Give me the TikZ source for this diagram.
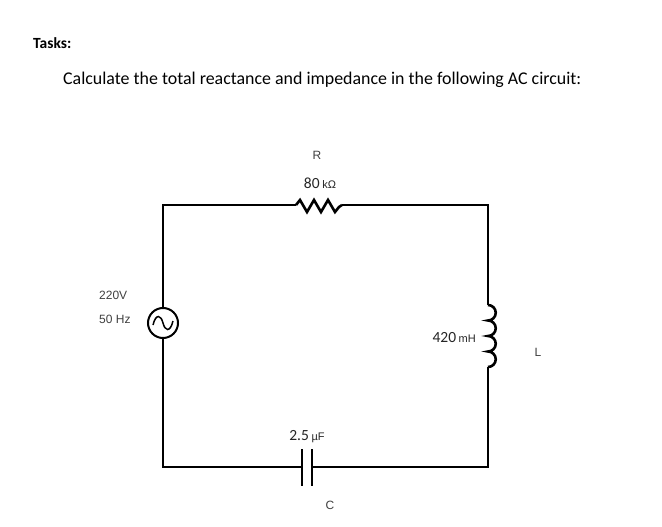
\documentclass[tikz,border=0pt]{standalone}
\usepackage{fontspec}
\setmainfont{Carlito}
\newfontfamily\lab{Liberation Sans}
\begin{document}
\begin{tikzpicture}[x=1pt,y=-1pt,
  wire/.style={line width=2.6pt,line join=miter},
  lbl/.style={font=\lab\fontsize{12}{14}\selectfont,text=black!75,inner sep=0pt},
  val/.style={font=\fontsize{15.5}{17}\selectfont,text=black!85,inner sep=0pt}]
\useasboundingbox[fill=white] (0,0) rectangle (662,527);
\node[font=\bfseries\fontsize{15.5}{18}\selectfont,anchor=west,inner sep=0pt] (t) at (33,43) {Tasks:};
\node[font=\fontsize{17.9}{21}\selectfont,anchor=west,inner sep=0pt] (q) at (63,80) {Calculate the total reactance and impedance in the following AC circuit:};
\coordinate (tl) at (163,205); \coordinate (tr) at (488,205);
\coordinate (bl) at (163,467); \coordinate (br) at (488,467);
\coordinate (r1) at (296,205); \coordinate (r2) at (342,205);
\coordinate (l1) at (488,305); \coordinate (l2) at (488,367);
\coordinate (c1) at (302,467); \coordinate (c2) at (312,467);
\node[circle,draw,line width=2pt,minimum size=30pt,inner sep=0pt] (src) at (163,323) {};
% wires
\draw[wire] (src.north) -- (tl) -- (r1);
\draw[wire] (r1) -- ++(4,-5) -- ++(7,12) -- ++(7,-12) -- ++(7,12) -- ++(7,-12) -- ++(7,12) -- ++(4,-5) -- (r2);
\draw[wire] (r2) -- (tr) -- (l1);
\draw[wire] (l1) \foreach \i in {1,...,4}{ arc(-90:90:7.75) } ;
\draw[wire] (l2) -- (br) -- (c2);
\draw[wire] (c1) -- (bl) -- (src.south);
\draw[wire] (302,449) -- (302,486);
\draw[wire] (312,449) -- (312,486);
\draw[line width=1.5pt] (153,325) .. controls (156,313) and (161,315) .. (163,323) .. controls (165,331) and (170,333) .. (173,321);
% labels
\node[lbl] (lr) at (317,155) {R};
\node[val] (vr) at (320,183) {80\,{\lab\fontsize{11}{12}\selectfont kΩ}};
\node[lbl,anchor=west] (v) at (99,295) {220V};
\node[lbl,anchor=west] (f) at (99,319) {50 Hz};
\node[val,anchor=east] (vl) at (476,338) {420\,{\lab\fontsize{11}{12}\selectfont mH}};
\node[lbl] (ll) at (538,352) {L};
\node[val] (vc) at (307,437) {2.5\,{\lab\fontsize{11}{12}\selectfont µF}};
\node[lbl] (lc) at (330,505) {C};
\end{tikzpicture}
\end{document}
